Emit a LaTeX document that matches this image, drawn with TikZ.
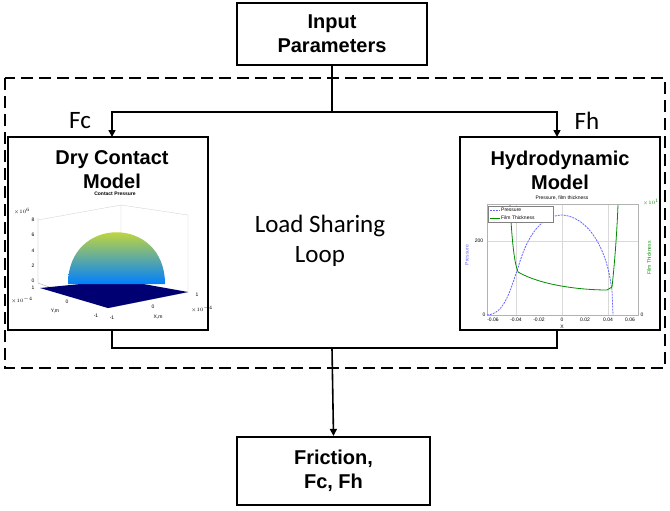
\documentclass[tikz,border=0pt]{standalone}
\usepackage{fontspec}
\setmainfont{Carlito}
\setsansfont{Liberation Sans}
\usetikzlibrary{arrows.meta}
\begin{document}
\begin{tikzpicture}[x=1pt,y=-1pt,
  box/.style={draw,line width=2.2pt,inner sep=0pt},
  ttl/.style={font=\sffamily\fontsize{20}{24}\selectfont\bfseries,align=center},
  con/.style={line width=1.6pt},
  arr/.style={con,-{Triangle[length=7pt,width=7pt]}},
  tiny/.style={font=\sffamily\fontsize{5}{6}\selectfont,inner sep=0pt}]
\useasboundingbox (0,0) rectangle (670,511);
\fill[white] (0,0) rectangle (670,511);
% dashed loop
\draw[line width=2pt,dash pattern=on 12pt off 6pt] (5,78) rectangle (665,368);
% boxes
\node[box,minimum width=190pt,minimum height=62pt] (in) at (332,34) {};
\node[ttl] at (332,34) {Input\\Parameters};
\node[box,minimum width=200pt,minimum height=193pt] (dry) at (108,233.5) {};
\node[box,minimum width=200pt,minimum height=193pt] (hyd) at (560,233.5) {};
\node[box,minimum width=193pt,minimum height=68pt] (fr) at (333.5,471) {};
\node[ttl] at (333.5,471) {Friction,\\Fc, Fh};
\node[ttl] (drylbl) at (112,170) {Dry Contact\\Model};
\node[ttl] (hydlbl) at (560,170) {Hydrodynamic\\Model};
\node[font=\fontsize{25}{30}\selectfont,align=center] (ls) at (320,241) {Load Sharing\\Loop};
\node[font=\fontsize{25}{28}\selectfont] (fc) at (80,121) {Fc};
\node[font=\fontsize{25}{28}\selectfont] (fh) at (587,121) {Fh};
% connectors
\coordinate (j1) at (332,112);
\coordinate (l1) at (112,112);
\coordinate (r1) at (557,112);
\draw[con] (in.south) -- (j1);
\draw[arr] (j1) -- (l1) -- (112,137);
\draw[arr] (j1) -- (r1) -- (557,137);
\coordinate (l2) at (112,348);
\coordinate (r2) at (557,348);
\coordinate (j2) at (332,348);
\draw[con] (112,330) -- (l2) -- (r2) -- (557,330);
\draw[arr] (j2) -- (fr.north);
% dry contact plot
\draw[gray!40,line width=0.3pt] (38,220) -- (121,205) -- (121,280) (121,205) -- (188,215) -- (188,292);
\draw[gray!70,line width=0.4pt] (38,218) -- (38,283) -- (108,308) -- (188,292);
\fill[blue!45!black] (40,288) -- (108,308) -- (188,292) -- (121,280) -- cycle;
\shade[top color=yellow!90!orange, bottom color=cyan!50!blue] (68,284) .. controls (68,215) and (165,215) .. (165,284) -- cycle;
\node[tiny,font=\sffamily\bfseries\fontsize{5}{6}\selectfont] at (115,194) {Contact Pressure};
\foreach \v/\yy in {8/220,6/235,4/251,2/266,0/281}{\node[tiny] at (33,\yy) {\v};}
\node[tiny] at (22,211) {$\times10^{6}$};
\node[tiny] at (33,288) {1};
\node[tiny] at (22,300) {$\times10^{-4}$};
\node[tiny] at (67,302) {0};
\node[tiny] at (55,311) {Y,m};
\node[tiny] at (96,316) {-1};
\node[tiny] at (112,318) {-1};
\node[tiny] at (153,307) {0};
\node[tiny] at (158,317) {X,m};
\node[tiny] at (197,295) {1};
\node[tiny] at (202,309) {$\times10^{-4}$};
% hydrodynamic plot
\draw[gray!30,line width=0.3pt] (516,204) -- (516,315) (562,204) -- (562,315) (608,204) -- (608,315) (487,241) -- (638,241);
\draw[gray!60,line width=0.4pt] (487,204) rectangle (638,315);
\draw[blue!60,line width=0.8pt,dash pattern=on 2pt off 1pt] (487,315) .. controls (505,314) and (510,290) .. (518,268) .. controls (530,225) and (548,215) .. (563,215) .. controls (590,218) and (605,250) .. (610,278) -- (612,290) -- (613,315);
\draw[green!55!black,line width=0.8pt] (510,205) .. controls (512,240) and (514,262) .. (518,272) .. controls (540,285) and (580,290) .. (607,290) -- (612,287) .. controls (615,260) and (617,230) .. (618,205);
\draw[fill=white,draw=gray,line width=0.3pt] (488,206) rectangle (553,222);
\draw[blue!60,line width=0.6pt,dash pattern=on 2pt off 1pt] (490,210) -- (500,210);
\draw[green!55!black,line width=0.6pt] (490,218) -- (500,218);
\node[tiny,anchor=west] at (501,210) {Pressure};
\node[tiny,anchor=west] at (501,218) {Film Thickness};
\node[tiny] at (562,198) {Pressure, film thickness};
\node[tiny] at (479,241) {200};
\node[tiny] at (484,315) {0};
\node[tiny,text=blue!60,rotate=90] at (467,255) {Pressure};
\node[tiny,text=green!55!black,rotate=90] at (649,258) {Film Thickness};
\node[tiny,text=green!55!black] at (651,202) {$\times10^{1}$};
\node[tiny] at (642,315) {0};
\foreach \t/\xx in {-0.06/493,-0.04/516,-0.02/539,0/562,0.02/585,0.04/608,0.06/630}{\node[tiny] at (\xx,320) {\t};}
\node[tiny] at (562,327) {X};
\end{tikzpicture}
\end{document}
